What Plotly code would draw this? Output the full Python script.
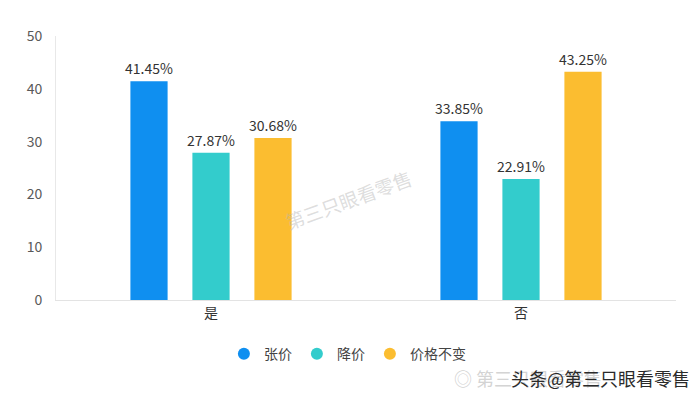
import plotly.graph_objects as go

categories = ["是", "否"]
series_names = ["张价", "降价", "价格不变"]
rise = [41.45, 33.85]
fall = [27.87, 22.91]
same = [30.68, 43.25]
tick_vals = [0, 10, 20, 30, 40, 50]

colors = ["#0f8ff0", "#33cccc", "#fbbd30"]
font_family = "Noto Sans CJK SC, Noto Sans, sans-serif"

fig = go.Figure()
for name, vals, c in zip(series_names, [rise, fall, same], colors):
    fig.add_trace(go.Bar(
        x=categories, y=vals, name=name, showlegend=False,
        marker=dict(color=c, line=dict(width=0)),
        text=[f"{v:.2f}%" for v in vals],
        textposition="outside", constraintext="none",
        textfont=dict(size=14, color="#333333", family=font_family),
        cliponaxis=False,
    ))
# legend entries with circular markers
for name, c in zip(series_names, colors):
    fig.add_trace(go.Scatter(
        x=[None], y=[None], mode="markers", name=name,
        marker=dict(symbol="circle", size=14, color=c),
    ))

fig.update_layout(
    width=700, height=397,
    margin=dict(l=56, r=24, t=36, b=97),
    paper_bgcolor="white", plot_bgcolor="white",
    barmode="group", bargap=0.4, bargroupgap=0.4,
    font=dict(family=font_family, color="#595959", size=14),
    showlegend=True,
    legend=dict(orientation="h", x=0.47, xanchor="center", y=-0.205, yanchor="middle",
                font=dict(size=14, color="#444444"), itemsizing="constant",
                itemwidth=30, traceorder="normal"),
    xaxis=dict(showgrid=False, showline=True, linecolor="#e3e3e3", linewidth=1,
               ticks="", tickfont=dict(size=14, color="#333333")),
    yaxis=dict(range=[0, 50], tickvals=tick_vals, showgrid=False, showline=True,
               linecolor="#e8e8e8", linewidth=1, ticks="", zeroline=False,
               tickfont=dict(size=14, color="#595959"), ticklabelstandoff=10),
)

# center watermark
fig.add_annotation(text="第三只眼看零售", x=0.471, y=0.379, xref="paper", yref="paper",
                   showarrow=False, textangle=-20,
                   font=dict(size=19, color="rgba(180,180,180,0.45)", family=font_family))
# bottom-right watermarks
fig.add_annotation(text="◎ 第三只眼看零售", x=(452 - 56) / 620, y=(300 - 378) / 264,
                   xref="paper", yref="paper", xanchor="left", yanchor="middle",
                   showarrow=False,
                   font=dict(size=18, color="rgba(200,200,200,0.8)", family=font_family))
fig.add_annotation(text="头条@第三只眼看零售", x=(692 - 56) / 620, y=(300 - 378) / 264,
                   xref="paper", yref="paper", xanchor="right", yanchor="middle",
                   showarrow=False,
                   font=dict(size=18, color="#2a2a2a", family=font_family))

fig.write_html("out.html", config={"displayModeBar": False},
               post_script="document.body.style.margin='0';")
